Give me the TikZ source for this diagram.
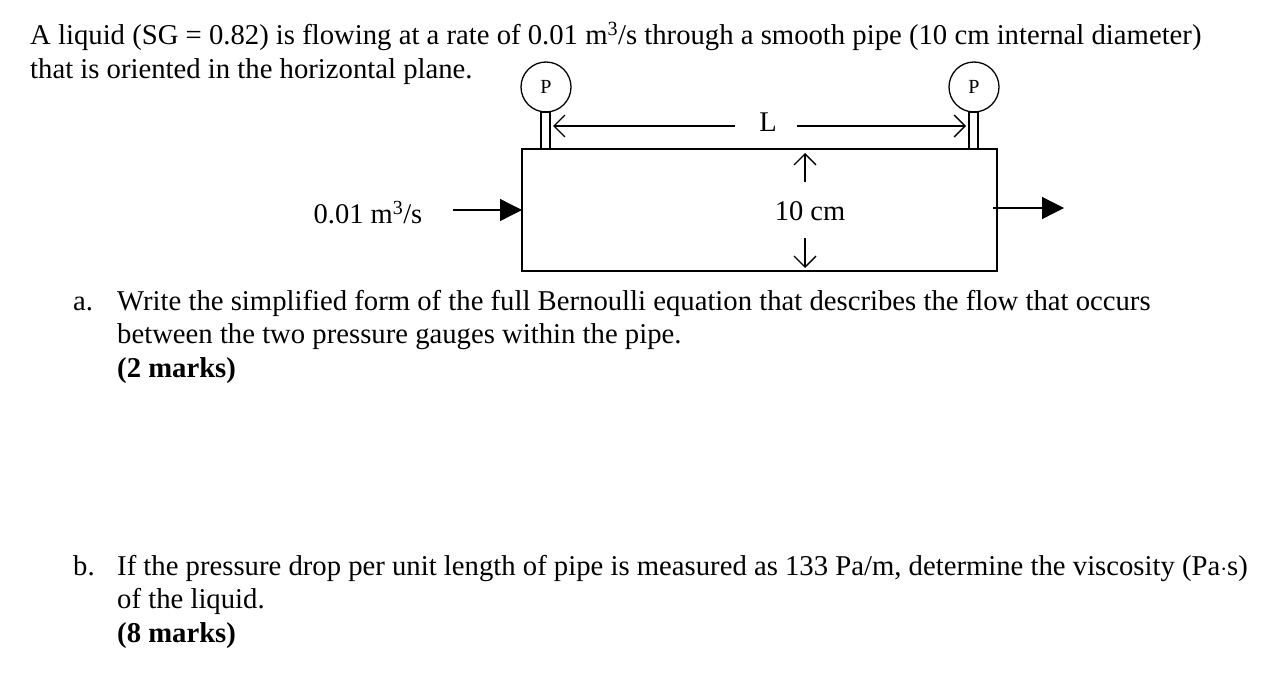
\documentclass[tikz,border=0pt]{standalone}
\usepackage{fontspec}
\setmainfont{Liberation Serif}
\usetikzlibrary{arrows.meta}
\begin{document}
\begin{tikzpicture}[x=1pt,y=-1pt,
  txt/.style={anchor=base west,inner sep=0pt,font=\fontsize{28.7}{33}\selectfont},
  small/.style={inner sep=0pt,font=\fontsize{28.5}{33}\selectfont},
  gauge/.style={draw,line width=1.3pt,circle,minimum size=50pt,inner sep=0pt,font=\fontsize{20}{22}\selectfont},
  pipe/.style={draw,line width=1.5pt},
  dim/.style={line width=1.3pt,-{Straight Barb[length=11pt,width=22pt]}},
  flow/.style={line width=1.3pt,-{Triangle[length=22pt,width=22pt]}}]
\useasboundingbox (0,0) rectangle (1267,696);
\node[txt] (t1) at (30,45) {A liquid (SG = 0.82) is flowing at a rate of 0.01 m\textsuperscript{3}/s through a smooth pipe (10 cm internal diameter)};
\node[txt] (t2) at (30,78) {that is oriented in the horizontal plane.};
% pipe
\draw[pipe] (522,149) rectangle (997,271);
\coordinate (pipeL) at (522,210);
\coordinate (outS) at (993,208);
% gauges
\draw[pipe] (541,112) rectangle (550,149);
\draw[pipe] (969,112) rectangle (978,149);
\node[gauge] (g1) at (546,87) {P};
\node[gauge] (g2) at (974,87) {P};
% L
\node[small] (L) at (768,122) {L};
\coordinate (La) at (735,126); \coordinate (Lb) at (797,126);
\coordinate (L1) at (553,126); \coordinate (L2) at (966,126);
\draw[dim] (La) -- (L1);
\draw[dim] (Lb) -- (L2);
% 10 cm
\node[small] (d) at (810,211) {10 cm};
\coordinate (u1) at (805,182); \coordinate (u2) at (805,153);
\coordinate (w1) at (805,238); \coordinate (w2) at (805,268);
\draw[dim] (u1) -- (u2);
\draw[dim] (w1) -- (w2);
% flows
\node[small] (q) at (368,213) {0.01 m\textsuperscript{3}/s};
\coordinate (in0) at (453,210);
\draw[flow] (in0) -- (pipeL);
\coordinate (out1) at (1064,208);
\draw[flow] (outS) -- (out1);
% questions
\node[txt] (a) at (73,310) {a.};
\node[txt] (a1) at (117,310) {Write the simplified form of the full Bernoulli equation that describes the flow that occurs};
\node[txt] (a2) at (117,343) {between the two pressure gauges within the pipe.};
\node[txt] (a3) at (117,377) {\textbf{(2 marks)}};
\node[txt] (b) at (73,575) {b.};
\node[txt] (b1) at (117,575) {If the pressure drop per unit length of pipe is measured as 133 Pa/m, determine the viscosity (Pa$\cdot$s)};
\node[txt] (b2) at (117,608) {of the liquid.};
\node[txt] (b3) at (117,642) {\textbf{(8 marks)}};
\end{tikzpicture}
\end{document}
